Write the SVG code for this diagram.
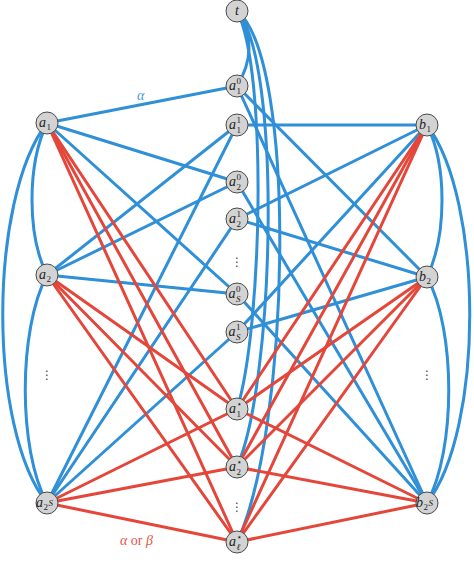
<svg xmlns="http://www.w3.org/2000/svg" width="474" height="579" viewBox="0 0 474 579">
<style>
.b{stroke:#2f8fd7;stroke-width:3;fill:none;stroke-linecap:round}
.r{stroke:#e4463a;stroke-width:3;fill:none;stroke-linecap:round}
.n circle{fill:#d3d3d3;stroke:#4a4a4a;stroke-width:1}
.m{font-family:"Liberation Serif","DejaVu Serif",serif;fill:#222}
.i{font-style:italic;font-size:14px}
.s{font-style:normal;font-size:9px}
.si{font-style:italic;font-size:9px}
.d{font-family:"DejaVu Sans",sans-serif;font-size:12px;fill:#444;text-anchor:middle}
</style>
<rect width="474" height="579" fill="#fff"/>
<g id="connectors">
<g id="blue">
<path class="b" d="M47,123 L237,86"/>
<path class="b" d="M47,123 L237,182"/>
<path class="b" d="M47,123 L237,294"/>
<path class="b" d="M47,275 L237,125"/>
<path class="b" d="M47,275 L237,182"/>
<path class="b" d="M47,275 L237,294"/>
<path class="b" d="M47,503 L237,125"/>
<path class="b" d="M47,503 L237,219"/>
<path class="b" d="M47,503 L237,332"/>
<path class="b" d="M427,125 L237,125"/>
<path class="b" d="M427,125 L237,219"/>
<path class="b" d="M427,125 L237,332"/>
<path class="b" d="M427,277 L237,86"/>
<path class="b" d="M427,277 L237,219"/>
<path class="b" d="M427,277 L237,332"/>
<path class="b" d="M427,503 L237,86"/>
<path class="b" d="M427,503 L237,182"/>
<path class="b" d="M427,503 L237,294"/>
<path class="b" d="M47,123 C27,165 27,235 47,275"/>
<path class="b" d="M47,123 C-12,200 -12,430 47,503"/>
<path class="b" d="M47,275 C18,330 18,450 47,503"/>
<path class="b" d="M427,125 C447,165 447,235 427,277"/>
<path class="b" d="M427,125 C484,200 484,430 427,503"/>
<path class="b" d="M427,277 C456,330 456,450 427,503"/>
<path class="b" d="M237,11 C254,35 252,62 237,86"/>
<path class="b" d="M237,11 C268,70 262,330 237,409"/>
<path class="b" d="M237,11 C282,60 275,380 237,467"/>
<path class="b" d="M237,11 C298,60 290,430 237,542"/>
</g>
<g id="red">
<path class="r" d="M47,123 L237,409"/>
<path class="r" d="M47,123 L237,467"/>
<path class="r" d="M47,123 L237,542"/>
<path class="r" d="M47,275 L237,409"/>
<path class="r" d="M47,275 L237,467"/>
<path class="r" d="M47,275 L237,542"/>
<path class="r" d="M47,503 L237,409"/>
<path class="r" d="M47,503 L237,467"/>
<path class="r" d="M47,503 L237,542"/>
<path class="r" d="M427,125 L237,409"/>
<path class="r" d="M427,125 L237,467"/>
<path class="r" d="M427,125 L237,542"/>
<path class="r" d="M427,277 L237,409"/>
<path class="r" d="M427,277 L237,467"/>
<path class="r" d="M427,277 L237,542"/>
<path class="r" d="M427,503 L237,409"/>
<path class="r" d="M427,503 L237,467"/>
<path class="r" d="M427,503 L237,542"/>
</g>
<text x="137" y="100" font-family="Liberation Serif,DejaVu Serif,serif" font-style="italic" font-size="14" fill="#4a9bd8">α</text>
<text x="120" y="545" font-family="Liberation Serif,DejaVu Serif,serif" font-size="14" fill="#e2574a"><tspan font-style="italic">α</tspan> or <tspan font-style="italic">β</tspan></text>
</g>
<g id="t" class="n"><circle cx="237" cy="11" r="11"/><text class="m i" x="237" y="15" text-anchor="middle">t</text></g>
<g id="a1_0" class="n"><circle cx="237" cy="86" r="11"/><text class="m"><tspan class="i" x="229" y="90">a</tspan><tspan class="s" x="236.5" y="84">0</tspan><tspan class="s" x="236.5" y="94">1</tspan></text></g>
<g id="a1_1" class="n"><circle cx="237" cy="125" r="11"/><text class="m"><tspan class="i" x="229" y="129">a</tspan><tspan class="s" x="236.5" y="123">1</tspan><tspan class="s" x="236.5" y="133">1</tspan></text></g>
<g id="a2_0" class="n"><circle cx="237" cy="182" r="11"/><text class="m"><tspan class="i" x="229" y="186">a</tspan><tspan class="s" x="236.5" y="180">0</tspan><tspan class="s" x="236.5" y="190">2</tspan></text></g>
<g id="a2_1" class="n"><circle cx="237" cy="219" r="11"/><text class="m"><tspan class="i" x="229" y="223">a</tspan><tspan class="s" x="236.5" y="217">1</tspan><tspan class="s" x="236.5" y="227">2</tspan></text></g>
<text class="d" x="237" y="266">⋮</text>
<g id="aS_0" class="n"><circle cx="237" cy="294" r="11"/><text class="m"><tspan class="i" x="228.5" y="298">a</tspan><tspan class="s" x="236" y="292">0</tspan><tspan class="si" x="236" y="302">S</tspan></text></g>
<g id="aS_1" class="n"><circle cx="237" cy="332" r="11"/><text class="m"><tspan class="i" x="228.5" y="336">a</tspan><tspan class="s" x="236" y="330">1</tspan><tspan class="si" x="236" y="340">S</tspan></text></g>
<g id="a1_star" class="n"><circle cx="237" cy="409" r="11"/><text class="m"><tspan class="i" x="229" y="413">a</tspan><tspan class="s" x="236.5" y="407" font-family="DejaVu Sans,sans-serif" font-size="8">⋆</tspan><tspan class="s" x="236.5" y="417">1</tspan></text></g>
<g id="a2_star" class="n"><circle cx="237" cy="467" r="11"/><text class="m"><tspan class="i" x="229" y="471">a</tspan><tspan class="s" x="236.5" y="465" font-family="DejaVu Sans,sans-serif" font-size="8">⋆</tspan><tspan class="s" x="236.5" y="475">2</tspan></text></g>
<text class="d" x="237" y="511">⋮</text>
<g id="al_star" class="n"><circle cx="237" cy="542" r="11"/><text class="m"><tspan class="i" x="229" y="546">a</tspan><tspan class="s" x="236.5" y="540" font-family="DejaVu Sans,sans-serif" font-size="8">⋆</tspan><tspan class="si" x="236.5" y="550">ℓ</tspan></text></g>
<g id="a1" class="n"><circle cx="47" cy="123" r="11"/><text class="m"><tspan class="i" x="39" y="127">a</tspan><tspan class="s" x="46.5" y="130">1</tspan></text></g>
<g id="a2" class="n"><circle cx="47" cy="275" r="11"/><text class="m"><tspan class="i" x="39" y="279">a</tspan><tspan class="s" x="46.5" y="282">2</tspan></text></g>
<text class="d" x="47" y="379">⋮</text>
<g id="a2S" class="n"><circle cx="47" cy="503" r="11"/><text class="m"><tspan class="i" x="36" y="507">a</tspan><tspan class="s" x="43.5" y="510">2</tspan><tspan class="si" x="48.5" y="506" font-size="7">S</tspan></text></g>
<g id="b1" class="n"><circle cx="427" cy="125" r="11"/><text class="m"><tspan class="i" x="419" y="129">b</tspan><tspan class="s" x="426.5" y="132">1</tspan></text></g>
<g id="b2" class="n"><circle cx="427" cy="277" r="11"/><text class="m"><tspan class="i" x="419" y="281">b</tspan><tspan class="s" x="426.5" y="284">2</tspan></text></g>
<text class="d" x="427" y="379">⋮</text>
<g id="b2S" class="n"><circle cx="427" cy="503" r="11"/><text class="m"><tspan class="i" x="416" y="507">b</tspan><tspan class="s" x="423.5" y="510">2</tspan><tspan class="si" x="428.5" y="506" font-size="7">S</tspan></text></g>
</svg>
